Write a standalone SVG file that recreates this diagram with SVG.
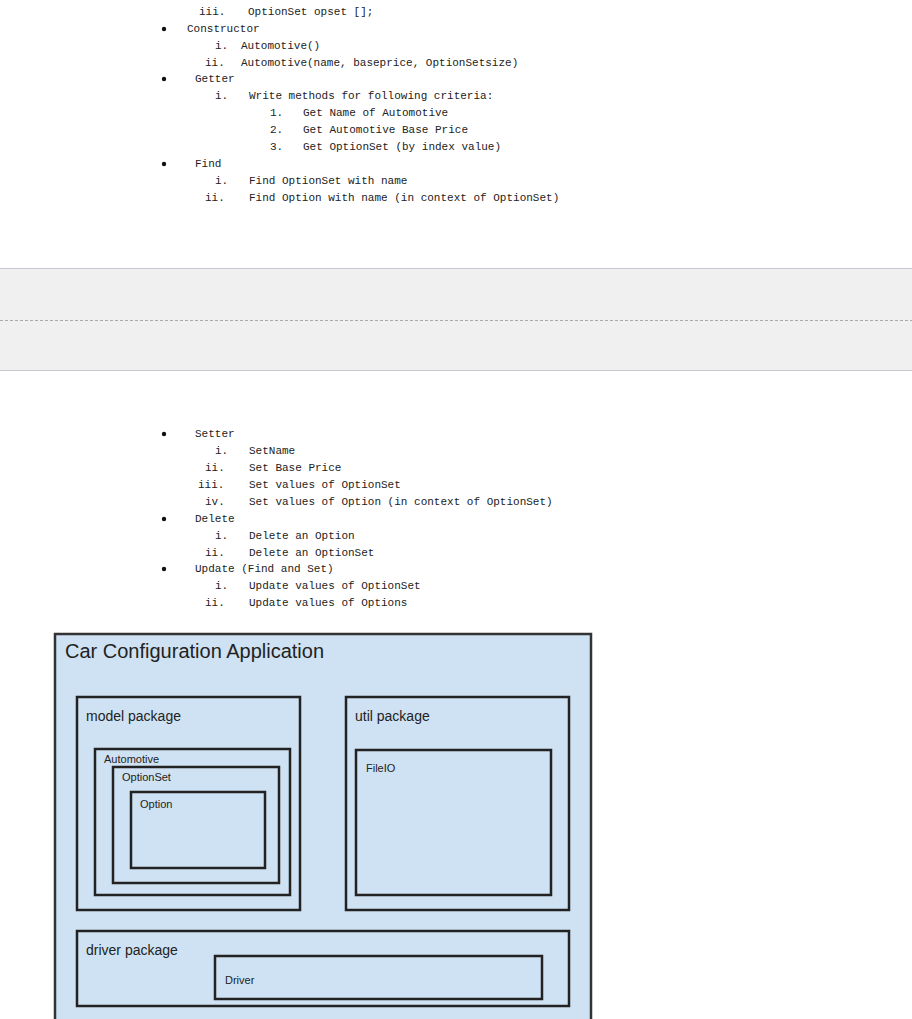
<svg xmlns="http://www.w3.org/2000/svg" width="912" height="1019" viewBox="0 0 912 1019">
<style>
.m{font-family:"Liberation Mono",monospace;font-size:11px;fill:#222}
.b{fill:#111}
.s{font-family:"Liberation Sans",Arial,sans-serif;fill:#222}
.bx{fill:none;stroke:#222;stroke-width:2.5}
</style>
<rect width="912" height="1019" fill="#fff"/>
<g id="text1">
<text class="m" x="199" y="15">iii.</text><text class="m" x="248" y="15">OptionSet opset [];</text>
<circle class="b" cx="164" cy="29" r="2.2"/><text class="m" x="187" y="32">Constructor</text>
<text class="m" x="215" y="49">i.</text><text class="m" x="241" y="49">Automotive()</text>
<text class="m" x="205" y="66">ii.</text><text class="m" x="241" y="66">Automotive(name, baseprice, OptionSetsize)</text>
<circle class="b" cx="164" cy="79" r="2.2"/><text class="m" x="195" y="82">Getter</text>
<text class="m" x="215" y="99">i.</text><text class="m" x="249" y="99">Write methods for following criteria:</text>
<text class="m" x="270" y="116">1.</text><text class="m" x="303" y="116">Get Name of Automotive</text>
<text class="m" x="270" y="133">2.</text><text class="m" x="303" y="133">Get Automotive Base Price</text>
<text class="m" x="270" y="150">3.</text><text class="m" x="303" y="150">Get OptionSet (by index value)</text>
<circle class="b" cx="164" cy="164" r="2.2"/><text class="m" x="195" y="167">Find</text>
<text class="m" x="215" y="184">i.</text><text class="m" x="249" y="184">Find OptionSet with name</text>
<text class="m" x="205" y="201">ii.</text><text class="m" x="249" y="201">Find Option with name (in context of OptionSet)</text>
</g>
<g id="pagebreak">
<rect x="0" y="268" width="912" height="102" fill="#f0f0f0"/>
<line x1="0" y1="268.5" x2="912" y2="268.5" stroke="#c8c8d0"/>
<line x1="0" y1="370.5" x2="912" y2="370.5" stroke="#c8c8d0"/>
<line x1="0" y1="320.5" x2="912" y2="320.5" stroke="#aaa" stroke-dasharray="3,2"/>
</g>
<g id="text2">
<circle class="b" cx="164" cy="434" r="2.2"/><text class="m" x="195" y="437">Setter</text>
<text class="m" x="215" y="454">i.</text><text class="m" x="249" y="454">SetName</text>
<text class="m" x="205" y="471">ii.</text><text class="m" x="249" y="471">Set Base Price</text>
<text class="m" x="198" y="488">iii.</text><text class="m" x="249" y="488">Set values of OptionSet</text>
<text class="m" x="205" y="505">iv.</text><text class="m" x="249" y="505">Set values of Option (in context of OptionSet)</text>
<circle class="b" cx="164" cy="519" r="2.2"/><text class="m" x="195" y="522">Delete</text>
<text class="m" x="215" y="539">i.</text><text class="m" x="249" y="539">Delete an Option</text>
<text class="m" x="205" y="556">ii.</text><text class="m" x="249" y="556">Delete an OptionSet</text>
<circle class="b" cx="164" cy="569" r="2.2"/><text class="m" x="195" y="572">Update (Find and Set)</text>
<text class="m" x="215" y="589">i.</text><text class="m" x="249" y="589">Update values of OptionSet</text>
<text class="m" x="205" y="606">ii.</text><text class="m" x="249" y="606">Update values of Options</text>
</g>
<g id="app">
<rect x="55" y="634" width="536" height="400" fill="#cfe2f3" stroke="#333" stroke-width="2.5"/>
<text class="s" x="65" y="658" font-size="20">Car Configuration Application</text>
</g>
<g id="model"><rect class="bx" x="77" y="697" width="223" height="213"/><text class="s" x="86" y="721" font-size="14">model package</text></g>
<g id="automotive"><rect class="bx" x="95" y="749" width="195" height="146"/><text class="s" x="104" y="763" font-size="11">Automotive</text></g>
<g id="optionset"><rect class="bx" x="113" y="767" width="166" height="116"/><text class="s" x="122" y="781" font-size="11">OptionSet</text></g>
<g id="option"><rect class="bx" x="131" y="792" width="134" height="76"/><text class="s" x="140" y="808" font-size="11">Option</text></g>
<g id="util"><rect class="bx" x="346" y="697" width="223" height="213"/><text class="s" x="355" y="721" font-size="14">util package</text></g>
<g id="fileio"><rect class="bx" x="356" y="750" width="195" height="145"/><text class="s" x="366" y="772" font-size="11">FileIO</text></g>
<g id="driverpkg"><rect class="bx" x="77" y="931" width="492" height="75"/><text class="s" x="86" y="955" font-size="14">driver package</text></g>
<g id="driver"><rect class="bx" x="215" y="956" width="327" height="43"/><text class="s" x="225" y="984" font-size="11">Driver</text></g>
<g id="connectors"/>
</svg>
